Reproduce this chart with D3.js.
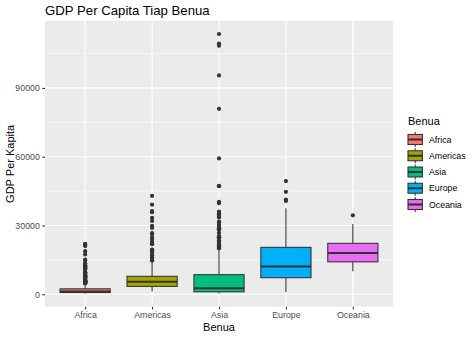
<!DOCTYPE html>
<html>
<head>
<meta charset="utf-8">
<script src="https://cdn.jsdelivr.net/npm/d3@7"></script>
<style>
  html, body { margin: 0; padding: 0; background: #fff; }
  svg { display: block; font-family: "Liberation Sans", Arial, sans-serif; }
</style>
</head>
<body>
<svg id="chart" width="474" height="338"></svg>
<script>
// ---- data (gapminder gdpPercap by continent) ----
const continents = ["Africa", "Americas", "Asia", "Europe", "Oceania"];
const colors = ["#F8766D", "#A3A500", "#00BF7D", "#00B0F6", "#E76BF3"];
const whiskerLow  = [241.17, 1201.64, 331.00, 973.53, 10039.60];
const q1          = [761.25, 3427.78, 1056.99, 7213.09, 14141.86];
const median      = [1192.14, 5465.51, 2646.79, 12081.75, 17983.30];
const q3          = [2377.42, 7830.21, 8549.26, 20461.39, 22214.12];
const whiskerHigh = [4797, 13990, 19775, 37506, 30688];
const dataMin = 241.17, dataMax = 113523.13;
const outliersAfrica = [6757, 18773, 21011, 21951, 17364, 11770, 9640, 9467, 9535, 12057,
  4976, 6631, 8358, 11401, 21745, 15113, 11864, 13522, 14723, 12522, 13206,
  5487, 5769, 7114, 7765, 8028, 8568, 7826, 7225, 7479, 7711, 9270,
  6206, 7954, 8647, 11004, 12570, 6058, 7426, 9021, 10957, 7703, 12154,
  5048, 5267, 5303, 6101, 6071, 6316, 7670, 4910, 5745, 5681, 5023, 5288, 6223,
  4876, 5723, 7093, 4811, 5523, 5473, 5581, 4879];
const outliersAmericas = [14847, 16173, 19530, 21806, 24073, 25010, 29884, 32004, 35767, 39097, 42952,
  16077, 18971, 22091, 22899, 26627, 26343, 28955, 33329, 36319,
  14642, 16999, 18856, 19329, 18009];
const outliersAsia = [108382, 113523, 95458, 80895, 109348, 59265, 31354, 28118, 34933, 40301, 35110, 47307,
  24837, 34168, 33693, 21198, 24841, 20586, 21655,
  22376, 26825, 28817, 28605, 31656, 24769, 33519, 36023, 47143,
  20038, 24758, 28378, 30209, 39725, 20207, 23235, 28718,
  20897, 21906, 25523, 20292, 23404, 29796, 23348, 22316];
const outliersEurope = [41283, 44684, 49357, 40676];
const outliersOceania = [34435];
const outliers = [outliersAfrica, outliersAmericas, outliersAsia, outliersEurope, outliersOceania];
const yTicks = [0, 30000, 60000, 90000];
const yMinorTicks = [15000, 45000, 75000, 105000];

// ---- layout ----
const svg = d3.select("#chart");
const P = { left: 45, right: 393, top: 21, bottom: 306.7 };
const pad = 0.05 * (dataMax - dataMin);
const y = d3.scaleLinear().domain([dataMin - pad, dataMax + pad]).range([P.bottom, P.top]);
const x = d3.scalePoint().domain(continents).range([P.left, P.right]).padding(0.6);
const step = x.step();
const boxW = step * 0.75;
const dark = "#333333";

// panel
svg.append("rect").attr("x", P.left).attr("y", P.top)
  .attr("width", P.right - P.left).attr("height", P.bottom - P.top).attr("fill", "#EBEBEB");
// minor grid
svg.append("g").selectAll("line").data(yMinorTicks).join("line")
  .attr("x1", P.left).attr("x2", P.right)
  .attr("y1", d => y(d)).attr("y2", d => y(d))
  .attr("stroke", "#fff").attr("stroke-width", 0.55);
// major grid
svg.append("g").selectAll("line").data(yTicks).join("line")
  .attr("x1", P.left).attr("x2", P.right)
  .attr("y1", d => y(d)).attr("y2", d => y(d))
  .attr("stroke", "#fff").attr("stroke-width", 1.1);
svg.append("g").selectAll("line").data(continents).join("line")
  .attr("x1", d => x(d)).attr("x2", d => x(d))
  .attr("y1", P.top).attr("y2", P.bottom)
  .attr("stroke", "#fff").attr("stroke-width", 1.1);

// boxes
const g = svg.append("g");
continents.forEach((c, i) => {
  const cx = x(c);
  // whiskers
  g.append("line").attr("x1", cx).attr("x2", cx)
    .attr("y1", y(q3[i])).attr("y2", y(whiskerHigh[i]))
    .attr("stroke", dark).attr("stroke-width", 1.07);
  g.append("line").attr("x1", cx).attr("x2", cx)
    .attr("y1", y(q1[i])).attr("y2", y(whiskerLow[i]))
    .attr("stroke", dark).attr("stroke-width", 1.07);
  // box
  g.append("rect").attr("x", cx - boxW / 2).attr("width", boxW)
    .attr("y", y(q3[i])).attr("height", y(q1[i]) - y(q3[i]))
    .attr("fill", colors[i]).attr("stroke", dark).attr("stroke-width", 1.07);
  // median
  g.append("line").attr("x1", cx - boxW / 2).attr("x2", cx + boxW / 2)
    .attr("y1", y(median[i])).attr("y2", y(median[i]))
    .attr("stroke", dark).attr("stroke-width", 2.1);
  // outliers
  g.append("g").selectAll("circle").data(outliers[i]).join("circle")
    .attr("cx", cx).attr("cy", d => y(d)).attr("r", 2.1)
    .attr("fill", dark);
});

// axes
const yAxis = svg.append("g").attr("transform", `translate(${P.left},0)`)
  .call(d3.axisLeft(y).tickValues(yTicks).tickFormat(d3.format("d")).tickSize(2.7).tickPadding(2.5));
const xAxis = svg.append("g").attr("transform", `translate(0,${P.bottom})`)
  .call(d3.axisBottom(x).tickSize(2.7).tickPadding(2.5));
[yAxis, xAxis].forEach(a => {
  a.select(".domain").remove();
  a.selectAll(".tick line").attr("stroke", dark).attr("stroke-width", 1.07);
  a.selectAll(".tick text").attr("fill", "#4D4D4D").attr("font-size", "8.8px")
    .attr("font-family", '"Liberation Sans", Arial, sans-serif');
});

// titles
svg.append("text").attr("x", P.left).attr("y", 14.5)
  .attr("font-size", "13.2px").attr("fill", "#000").text("GDP Per Capita Tiap Benua");
svg.append("text").attr("x", (P.left + P.right) / 2).attr("y", 331)
  .attr("text-anchor", "middle").attr("font-size", "11px").attr("fill", "#000").text("Benua");
svg.append("text").attr("transform", `translate(13.5,${(P.top + P.bottom) / 2}) rotate(-90)`)
  .attr("text-anchor", "middle").attr("font-size", "11px").attr("fill", "#000").text("GDP Per Kapita");

// legend
const L = svg.append("g");
L.append("text").attr("x", 408).attr("y", 125).attr("font-size", "11px").attr("fill", "#000").text("Benua");
const keyY0 = 139.5, keyStep = 16.25, kx = 408, kw = 14.4;
continents.forEach((c, i) => {
  const cy = keyY0 + i * keyStep;
  const kg = L.append("g");
  kg.append("line").attr("x1", kx + kw / 2).attr("x2", kx + kw / 2)
    .attr("y1", cy - 7.5).attr("y2", cy + 7.5).attr("stroke", dark).attr("stroke-width", 1.07);
  kg.append("rect").attr("x", kx).attr("y", cy - 5).attr("width", kw).attr("height", 10)
    .attr("fill", colors[i]).attr("stroke", dark).attr("stroke-width", 1.07);
  kg.append("line").attr("x1", kx).attr("x2", kx + kw)
    .attr("y1", cy).attr("y2", cy).attr("stroke", dark).attr("stroke-width", 2.1);
  kg.append("text").attr("x", 429).attr("y", cy).attr("dy", "0.35em")
    .attr("font-size", "8.8px").attr("fill", "#000").text(c);
});
</script>
</body>
</html>
